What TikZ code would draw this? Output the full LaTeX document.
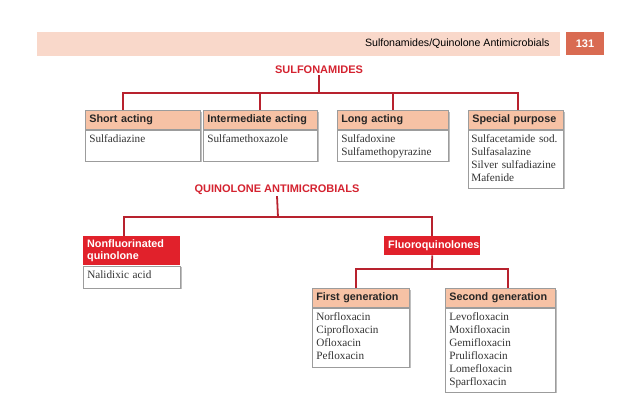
\documentclass[tikz,border=0pt]{standalone}
\usepackage{fontspec}
\setmainfont{Liberation Serif}
\setsansfont{Liberation Sans}
\usetikzlibrary{shadows}

\definecolor{bandpink}{HTML}{F9D8CA}
\definecolor{pagebox}{HTML}{D96B52}
\definecolor{titlered}{HTML}{D42330}
\definecolor{linkred}{HTML}{B8222E}
\definecolor{hdrfill}{HTML}{F7C2A5}
\definecolor{boxgray}{HTML}{9C9C9C}
\definecolor{redhdr}{HTML}{E1212B}

\tikzset{
  grouptitle/.style={font=\sffamily\bfseries\fontsize{11}{13}\selectfont, text=titlered, inner sep=1pt},
  link/.style={draw=linkred, line width=1.8pt},
  boxshadow/.style={drop shadow={shadow xshift=1.5pt, shadow yshift=-1.5pt, fill=black!50, opacity=0.5}},
  hdr/.style={draw=boxgray, fill=hdrfill, line width=0.6pt, anchor=north west,
    text width=#1, align=left, inner xsep=4pt, minimum height=19pt, text=black!85,
    font=\sffamily\bfseries\fontsize{10.8}{12}\selectfont, boxshadow},
  redhdr/.style={fill=redhdr, anchor=north west, text width=#1, inner xsep=4pt,
    minimum height=19pt, text=white, font=\sffamily\bfseries\fontsize{10.8}{12.5}\selectfont},
  body/.style 2 args={draw=boxgray, fill=white, line width=0.6pt, anchor=north west,
    text width=#1, text height=9pt, text depth=#2, inner xsep=4pt, inner ysep=4pt,
    align=left, text=black!80, font=\fontsize{11.2}{13}\selectfont, boxshadow}
}

\begin{document}
\begin{tikzpicture}[x=1pt, y=-1pt]
    \useasboundingbox (0,0) rectangle (638,420);

    % Page header
    \fill[bandpink] (37,32) rectangle (560,56);
    \node[anchor=east, font=\sffamily\fontsize{10.6}{12}\selectfont] (runhead) at (553,44) {Sulfonamides/Quinolone Antimicrobials};
    \node[fill=pagebox, text=white, font=\sffamily\bfseries\fontsize{11}{12}\selectfont, minimum width=38pt, minimum height=23pt] (pagenum) at (585,44) {131};

    % Sulfonamides
    \node[grouptitle] (sulf) at (319,70) {SULFONAMIDES};

    \node[hdr=107pt] (short) at (85,110) {Short acting};
    \node[body={107pt}{14pt}] (shortb) at (short.south west) {Sulfadiazine};

    \node[hdr=106pt] (inter) at (203,110) {Intermediate acting};
    \node[body={106pt}{14pt}] (interb) at (inter.south west) {Sulfamethoxazole};

    \node[hdr=103pt] (long) at (337,110) {Long acting};
    \node[body={103pt}{14pt}] (longb) at (long.south west) {Sulfadoxine\\Sulfamethopyrazine};

    \node[hdr=87pt] (spec) at (468,110) {Special purpose};
    \node[body={89pt}{41pt}, inner xsep=3pt] (specb) at (spec.south west) {Sulfacetamide sod.\\Sulfasalazine\\Silver sulfadiazine\\Mafenide};

    \coordinate (sj) at (319,93);
    \draw[link] (sulf.south) -- (sj);
    \draw[link] ([xshift=-20pt]short.north) |- (sj) -| ([xshift=2pt]spec.north);
    \draw[link] (inter.north) -- (inter.north |- sj);
    \draw[link] (long.north) -- (long.north |- sj);

    % Quinolones
    \node[grouptitle] (quin) at (277,190) {QUINOLONE ANTIMICROBIALS};

    \node[redhdr=89pt, align=left, minimum height=29pt] (nonfl) at (83,236) {Nonfluorinated\\quinolone};
    \node[body={89pt}{5pt}] (nonflb) at (nonfl.south west) {Nalidixic acid};

    \node[redhdr=88pt, align=center] (fluoro) at (384,236) {Fluoroquinolones};

    \node[hdr=89pt] (first) at (312,288) {First generation};
    \node[body={89pt}{42pt}] (firstb) at (first.south west) {Norfloxacin\\Ciprofloxacin\\Ofloxacin\\Pefloxacin};

    \node[hdr=102pt] (second) at (445,288) {Second generation};
    \node[body={102pt}{67pt}] (secondb) at (second.south west) {Levofloxacin\\Moxifloxacin\\Gemifloxacin\\Prulifloxacin\\Lomefloxacin\\Sparfloxacin};

    \coordinate (qj) at (278,217);
    \draw[link] (quin.south) -- (qj);
    \draw[link] ([xshift=-8pt]nonfl.north) |- (qj) -| (fluoro.north);

    \coordinate (fj) at (432,269);
    \draw[link] (fluoro.south) -- (fj);
    \draw[link] ([xshift=-5pt]first.north) |- (fj) -| ([xshift=8pt]second.north);
\end{tikzpicture}
\end{document}
